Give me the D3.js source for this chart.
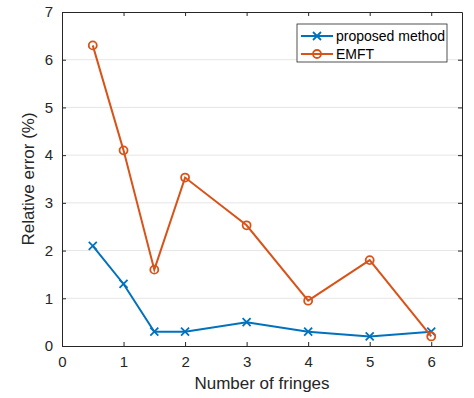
<!DOCTYPE html>
<html>
<head>
<meta charset="utf-8">
<script src="https://cdn.jsdelivr.net/npm/d3@7"></script>
<style>
  body { margin: 0; background: #fff; }
  svg { font-family: "Liberation Sans", Arial, sans-serif; }
</style>
</head>
<body>
<script>
// data
const fringes = [0.5, 1, 1.5, 2, 3, 4, 5, 6];
const proposed = [2.1, 1.3, 0.3, 0.3, 0.5, 0.3, 0.2, 0.3];
const emft = [6.3, 4.1, 1.6, 3.53, 2.53, 0.95, 1.8, 0.2];
const xTicks = [0, 1, 2, 3, 4, 5, 6];
const yTicks = [0, 1, 2, 3, 4, 5, 6, 7];

const width = 474, height = 398;
const margin = { top: 12, right: 12, bottom: 52, left: 62 };
const axisColor = "#262626";

const x = d3.scaleLinear().domain([0, 6.5]).range([margin.left, width - margin.right]);
const y = d3.scaleLinear().domain([0, 7]).range([height - margin.bottom, margin.top]);

const svg = d3.select("body").append("svg")
    .attr("width", width)
    .attr("height", height);

// 网格线
svg.append("g").selectAll("line").data(yTicks.slice(1, -1)).join("line")
    .attr("x1", x(0)).attr("x2", x(6.5))
    .attr("y1", d => y(d)).attr("y2", d => y(d))
    .attr("stroke", "#e6e6e6").attr("stroke-width", 1);

// axes, ticks inside
function styleAxis(g) {
    g.selectAll("path").attr("stroke", axisColor);
    g.selectAll("line").attr("stroke", axisColor);
    g.selectAll("text").attr("fill", axisColor).attr("font-size", 15);
}

svg.append("g").attr("transform", `translate(0,${y(0)})`)
    .call(d3.axisBottom(x).tickValues(xTicks).tickFormat(d3.format("d")).tickSizeInner(-4).tickSizeOuter(0).tickPadding(10))
    .call(styleAxis);
svg.append("g").attr("transform", `translate(0,${y(7)})`)
    .call(d3.axisTop(x).tickValues(xTicks).tickSizeInner(-4).tickSizeOuter(0).tickFormat(""))
    .call(styleAxis);
svg.append("g").attr("transform", `translate(${x(0)},0)`)
    .call(d3.axisLeft(y).tickValues(yTicks).tickFormat(d3.format("d")).tickSizeInner(-4).tickSizeOuter(0).tickPadding(9))
    .call(styleAxis);
svg.append("g").attr("transform", `translate(${x(6.5)},0)`)
    .call(d3.axisRight(y).tickValues(yTicks).tickSizeInner(-4).tickSizeOuter(0).tickFormat(""))
    .call(styleAxis);

// axis labels
svg.append("text")
    .attr("x", (x(0) + x(6.5)) / 2).attr("y", 389)
    .attr("text-anchor", "middle").attr("font-size", 17).attr("fill", axisColor)
    .text("Number of fringes");
svg.append("text")
    .attr("transform", `translate(34,${(y(0) + y(7)) / 2}) rotate(-90)`)
    .attr("text-anchor", "middle").attr("font-size", 17).attr("fill", axisColor)
    .text("Relative error (%)");

const series = [
    { name: "proposed method", values: proposed, color: "#0072BD", marker: "x" },
    { name: "EMFT", values: emft, color: "#D95319", marker: "o" }
];

const line = d3.line().x(d => x(d[0])).y(d => y(d[1]));

function drawMarker(g, s, cx, cy) {
    if (s.marker === "x") {
        const r = 4;
        g.append("path")
            .attr("d", `M${cx - r},${cy - r}L${cx + r},${cy + r}M${cx - r},${cy + r}L${cx + r},${cy - r}`)
            .attr("stroke", s.color).attr("stroke-width", 1.8).attr("fill", "none");
    } else {
        g.append("circle").attr("cx", cx).attr("cy", cy).attr("r", 4)
            .attr("stroke", s.color).attr("stroke-width", 1.8).attr("fill", "none");
    }
}

series.forEach(s => {
    const pts = fringes.map((f, i) => [f, s.values[i]]);
    const g = svg.append("g");
    g.append("path").datum(pts)
        .attr("fill", "none").attr("stroke", s.color).attr("stroke-width", 2)
        .attr("d", line);
    pts.forEach(p => drawMarker(g, s, x(p[0]), y(p[1])));
});

// 图例
const legend = svg.append("g").attr("transform", "translate(297,24)");
legend.append("rect").attr("width", 150).attr("height", 38)
    .attr("fill", "#fff").attr("stroke", axisColor).attr("stroke-width", 0.8);
series.forEach((s, i) => {
    const ly = 12 + i * 18;
    const item = legend.append("g");
    item.append("line").attr("x1", 4).attr("x2", 36).attr("y1", ly).attr("y2", ly)
        .attr("stroke", s.color).attr("stroke-width", 2);
    drawMarker(item, s, 20, ly);
    item.append("text").attr("x", 39).attr("y", ly + 5)
        .attr("font-size", 14).attr("fill", "#000").text(s.name);
});
</script>
</body>
</html>
